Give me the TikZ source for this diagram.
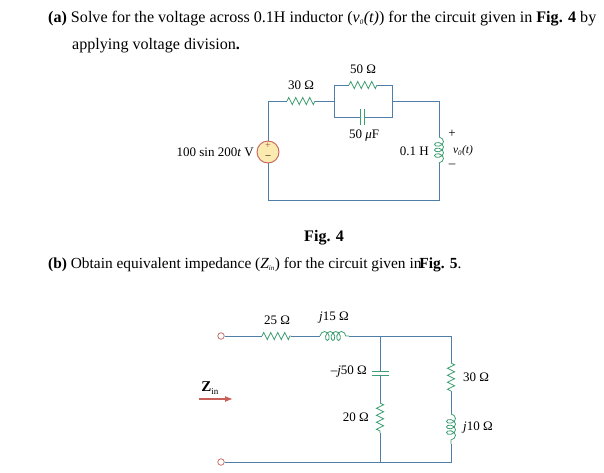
\documentclass[tikz,border=0pt]{standalone}
\usepackage{fontspec}
\setmainfont{Liberation Serif}
\usetikzlibrary{decorations.pathmorphing,arrows.meta}
\definecolor{wirecol}{HTML}{4F7FA8}
\definecolor{partcol}{HTML}{3E9E72}
\definecolor{ringcol}{HTML}{C8605A}
\definecolor{srccol}{HTML}{FBEBB0}
\tikzset{
    wire/.style={draw=wirecol,line width=0.9pt},
    res/.style={draw=partcol,line width=0.8pt,decorate,decoration={zigzag,segment length=7pt,amplitude=3.6pt}},
    ind/.style={draw=partcol,line width=0.8pt,decorate,decoration={coil,aspect=0.7,segment length=5.6pt,amplitude=4.5pt}},
    plate/.style={draw=partcol,line width=0.9pt},
    txt/.style={font=\fontsize{16.1}{18}\selectfont,inner sep=0pt,anchor=base west},
    lbl/.style={font=\fontsize{13}{15}\selectfont,inner sep=0pt},
    term/.style={circle,draw=ringcol,fill=white,line width=0.7pt,minimum size=6.5pt,inner sep=0pt}
}
\begin{document}
\begin{tikzpicture}[x=1pt,y=-1pt]
    \useasboundingbox (0,0) rectangle (604,472);
    %% question text
    \node[txt] (qa) at (48,22) {\textbf{(a)} Solve for the voltage across 0.1H inductor (\textit{v\textsubscript{\fontsize{7}{7}\selectfont 0}(t)}) for the circuit given in \textbf{Fig. 4} by};
    \node[txt] (qb) at (72,49) {applying voltage division\textbf{.}};
    \node[txt] (figa) at (304,241) {\textbf{Fig. 4}};
    \node[txt,font=\fontsize{15.4}{18}\selectfont] (qc) at (48,268) {\textbf{(b)} Obtain equivalent impedance (\textit{Z\textsubscript{\fontsize{7}{7}\selectfont in}}) for the circuit given in\hspace{-2pt}\textbf{Fig. 5}.};
    %% Fig. 4
    \node[circle,draw=ringcol,fill=srccol,line width=0.9pt,minimum size=22pt,inner sep=0pt] (src) at (268,152) {};
    \node[lbl,font=\fontsize{10}{10}\selectfont,text=ringcol!80!black] (srcp) at (268,146) {+};
    \node[lbl,font=\fontsize{10}{10}\selectfont] (srcm) at (268,157.5) {--};
    \coordinate (tl) at (268,101);
    \coordinate (bl) at (268,200);
    \coordinate (tr) at (439,101);
    \coordinate (br) at (439,200);
    \coordinate (ra) at (287,101);
    \coordinate (rb) at (315,101);
    \coordinate (pl) at (334,101);
    \coordinate (pr) at (392,101);
    \coordinate (plt) at (334,85);
    \coordinate (prt) at (392,85);
    \coordinate (plb) at (334,117);
    \coordinate (prb) at (392,117);
    \coordinate (rc) at (349,85);
    \coordinate (rd) at (377,85);
    \coordinate (ca) at (360,117);
    \coordinate (cb) at (364.5,117);
    \coordinate (la) at (439,137);
    \coordinate (lb) at (439,163);
    \draw[wire] (src) -- (tl) -- (ra);
    \draw[res] (ra) -- (rb);
    \draw[wire] (rb) -- (pl);
    \draw[wire] (pl) -- (plt) -- (rc);
    \draw[res] (rc) -- (rd);
    \draw[wire] (rd) -- (prt) -- (prb) -- (cb);
    \draw[wire] (ca) -- (plb) -- (pl);
    \draw[plate] ([yshift=-8pt]ca) -- ([yshift=8pt]ca);
    \draw[plate] ([yshift=-8pt]cb) -- ([yshift=8pt]cb);
    \draw[wire] (pr) -- (tr) -- (la);
    \draw[ind] (la) -- (lb);
    \draw[wire] (lb) -- (br) -- (bl) -- (src);
    \node[lbl] (lra) at (301,85) {30 Ω};
    \node[lbl] (lrb) at (363,69) {50 Ω};
    \node[lbl] (lc) at (364,136) {50 \textit{μ}F};
    \node[lbl,anchor=east] (lsrc) at (254,152) {100 sin 200\textit{t} V};
    \node[lbl,anchor=east] (lind) at (429,151) {0.1 H};
    \node[lbl] (lvp) at (452,134) {+};
    \node[lbl,font=\fontsize{11.5}{12}\selectfont] (lv) at (463,151) {\textit{v\textsubscript{\fontsize{7}{7}\selectfont 0}(t)}};
    \node[lbl] (lvm) at (452,166) {--};
    %% Fig. 5
    \node[term] (ta) at (221,336) {};
    \node[term] (tb) at (221,462) {};
    \coordinate (sa) at (262,336);
    \coordinate (sb) at (291,336);
    \coordinate (sc) at (320,336);
    \coordinate (sd) at (349,336);
    \coordinate (ja) at (380,336);
    \coordinate (jb) at (380,462);
    \coordinate (ka) at (451,336);
    \coordinate (kb) at (451,462);
    \coordinate (pa) at (380,371);
    \coordinate (pb) at (380,375);
    \coordinate (ma) at (380,403);
    \coordinate (mb) at (380,433);
    \coordinate (na) at (451,363);
    \coordinate (nb) at (451,391);
    \coordinate (oa) at (451,414);
    \coordinate (ob) at (451,444);
    \draw[wire] (ta) -- (sa);
    \draw[res] (sa) -- (sb);
    \draw[wire] (sb) -- (sc);
    \draw[ind] (sc) -- (sd);
    \draw[wire] (sd) -- (ka) -- (na);
    \draw[res] (na) -- (nb);
    \draw[wire] (nb) -- (oa);
    \draw[ind] (oa) -- (ob);
    \draw[wire] (ob) -- (kb) -- (tb);
    \draw[wire] (ja) -- (pa);
    \draw[plate] ([xshift=-8.5pt]pa) -- ([xshift=8.5pt]pa);
    \draw[plate] ([xshift=-8.5pt]pb) -- ([xshift=8.5pt]pb);
    \draw[wire] (pb) -- (ma);
    \draw[res] (ma) -- (mb);
    \draw[wire] (mb) -- (jb);
    \node[lbl] (lsa) at (277,320) {25 Ω};
    \node[lbl] (lsb) at (334,318) {\textit{j}15 Ω};
    \node[lbl,anchor=east] (lpa) at (367,372) {--\textit{j}50 Ω};
    \node[lbl,anchor=east] (lma) at (369,417) {20 Ω};
    \node[lbl,anchor=west] (lna) at (463,377) {30 Ω};
    \node[lbl,anchor=west] (loa) at (463,428) {\textit{j}10 Ω};
    \node[lbl,font=\fontsize{15}{15}\selectfont] (lz) at (210,388) {\textbf{Z}\textsubscript{\fontsize{9}{9}\selectfont in}};
    \coordinate (za) at (199,399);
    \coordinate (zb) at (233,399);
    \draw[ringcol,line width=1.2pt,-{Latex[length=8pt,width=6pt]}] (za) -- (zb);
\end{tikzpicture}
\end{document}
